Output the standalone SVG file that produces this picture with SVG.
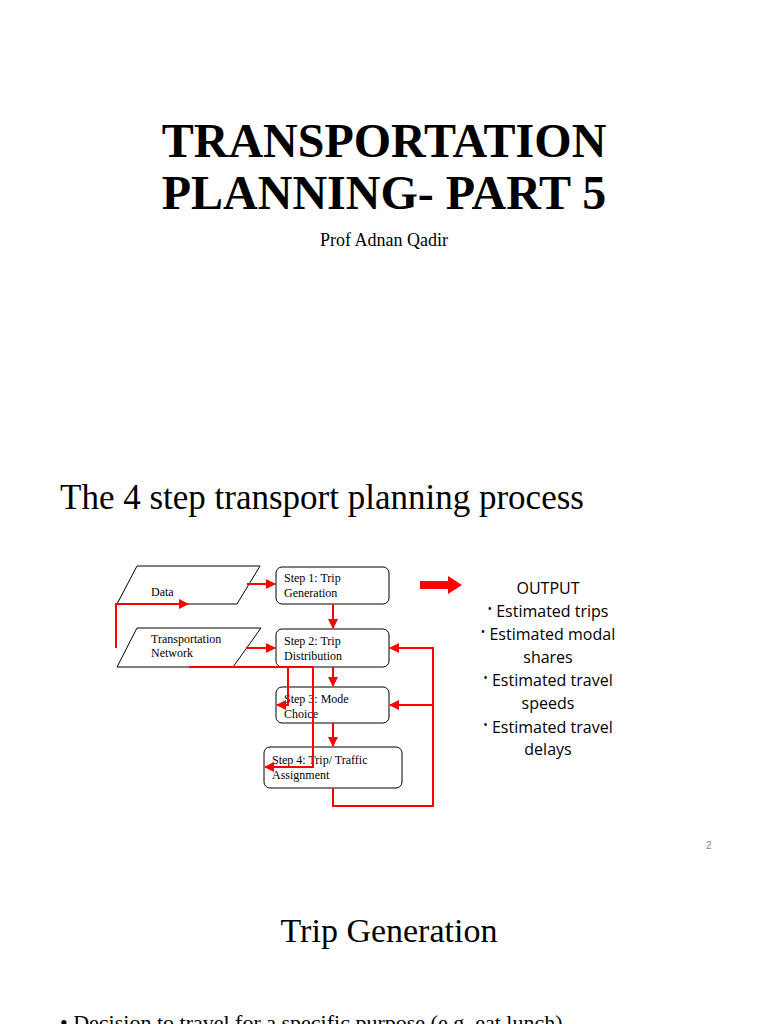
<svg xmlns="http://www.w3.org/2000/svg" width="768" height="1024" viewBox="0 0 768 1024">
<defs>
<style>
.t{font-family:"Liberation Serif",serif;fill:#000}
.c{font-family:"Open Sans","Noto Sans",sans-serif;fill:#000;font-size:16px;text-anchor:middle}
.n{fill:#fff;stroke:#000;stroke-width:1}
.r{fill:none;stroke:#f00;stroke-width:2}
.s{font-family:"Liberation Serif",serif;font-size:12px;fill:#000}
</style>
<marker id="a" viewBox="0 0 10 10" refX="9" refY="5" markerWidth="5" markerHeight="5" orient="auto"><path d="M0,0L10,5L0,10z" fill="#f00"/></marker>
</defs>
<rect width="768" height="1024" fill="#fff"/>
<text class="t" x="384" y="157" font-size="48" font-weight="bold" text-anchor="middle">TRANSPORTATION</text>
<text class="t" x="384" y="209" font-size="48" font-weight="bold" text-anchor="middle">PLANNING- PART 5</text>
<text class="t" x="384" y="246" font-size="18" text-anchor="middle">Prof Adnan Qadir</text>
<text class="t" x="60" y="509" font-size="35">The 4 step transport planning process</text>
<g id="data"><polygon class="n" points="137,566 260,566 237,604 117,604"/><text class="s" x="151" y="596">Data</text></g>
<g id="network"><polygon class="n" points="137,628 261,628 233,667 117,667"/><text class="s" x="151" y="643">Transportation</text><text class="s" x="151" y="657">Network</text></g>
<g id="step1"><rect class="n" x="276" y="567" width="113" height="37" rx="6"/><text class="s" x="284" y="582">Step 1:  Trip</text><text class="s" x="284" y="597">Generation</text></g>
<g id="step2"><rect class="n" x="276" y="629" width="113" height="38" rx="6"/><text class="s" x="284" y="645">Step 2:  Trip</text><text class="s" x="284" y="660">Distribution</text></g>
<g id="step3"><rect class="n" x="276" y="687" width="113" height="36" rx="6"/><text class="s" x="284" y="703">Step 3:  Mode</text><text class="s" x="284" y="718">Choice</text></g>
<g id="step4"><rect class="n" x="264" y="747" width="138" height="41" rx="6"/><text class="s" x="272" y="764">Step 4:  Trip/ Traffic</text><text class="s" x="272" y="779">Assignment</text></g>
<g id="connectors">
<path class="r" d="M247,584H275" marker-end="url(#a)"/>
<path class="r" d="M116,648V604H188" marker-end="url(#a)"/>
<path class="r" d="M246,648H275" marker-end="url(#a)"/>
<path class="r" d="M333,604V628" marker-end="url(#a)"/>
<path class="r" d="M333,667V686" marker-end="url(#a)"/>
<path class="r" d="M333,723V746" marker-end="url(#a)"/>
<path class="r" d="M189,667H313V767H265" marker-end="url(#a)"/>
<path class="r" d="M288,667V705H277" marker-end="url(#a)"/>
<path class="r" d="M333,788V806H433V648H390" marker-end="url(#a)"/>
<path class="r" d="M433,705H390" marker-end="url(#a)"/>
</g>
<g id="bigarrow"><polygon points="420,581 448,581 448,576 462,585 448,594 448,589 420,589" fill="#f00"/></g>
<g id="output">
<text class="c" x="548" y="594">OUTPUT</text>
<text class="c" x="548" y="617"><tspan font-size="12" dy="-4">•</tspan><tspan dy="4"> Estimated trips</tspan></text>
<text class="c" x="548" y="640"><tspan font-size="12" dy="-4">•</tspan><tspan dy="4"> Estimated modal</tspan></text>
<text class="c" x="548" y="663">shares</text>
<text class="c" x="548" y="686"><tspan font-size="12" dy="-4">•</tspan><tspan dy="4"> Estimated travel</tspan></text>
<text class="c" x="548" y="709">speeds</text>
<text class="c" x="548" y="733"><tspan font-size="12" dy="-4">•</tspan><tspan dy="4"> Estimated travel</tspan></text>
<text class="c" x="548" y="755">delays</text>
</g>
<text x="706" y="849" font-family="Liberation Sans,sans-serif" font-size="10" fill="#888">2</text>
<text class="t" x="389" y="942" font-size="34" text-anchor="middle">Trip Generation</text>
<text class="t" x="60" y="1030" font-size="22">• Decision to travel for a specific purpose (e.g. eat lunch)</text>
</svg>
